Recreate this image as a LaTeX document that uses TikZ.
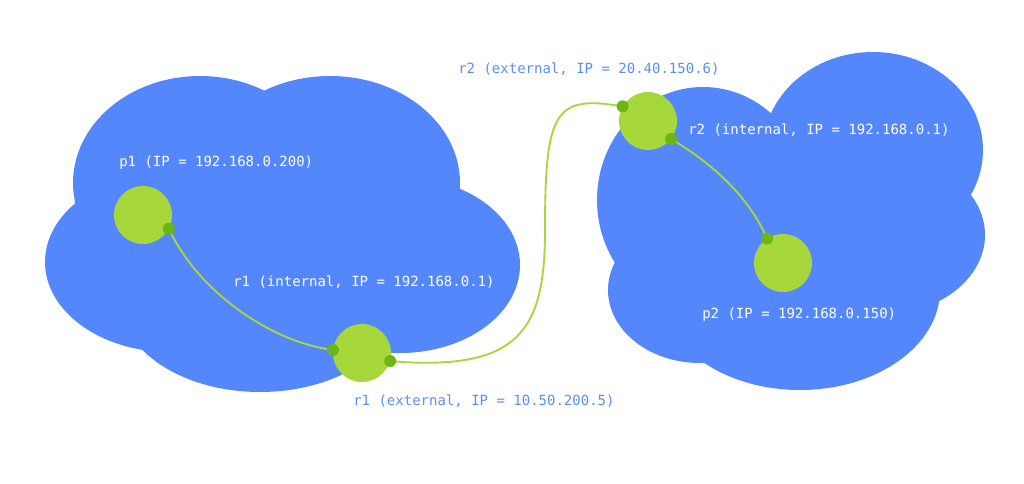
\documentclass[tikz,border=0pt]{standalone}
\usepackage{fontspec}
\setmonofont{DejaVu Sans Mono}
\definecolor{cloud}{HTML}{5587FC}
\definecolor{pt}{HTML}{A6D73B}
\definecolor{dot}{HTML}{6BB515}
\definecolor{lbl}{HTML}{5B8DF7}
\begin{document}
\begin{tikzpicture}[x=0.75pt,y=-0.75pt,
  host/.style={circle,fill=pt,inner sep=0,minimum size=43.5pt},
  port/.style={circle,fill=dot,inner sep=0,minimum size=9pt},
  link/.style={draw=pt,line width=1.4pt},
  intxt/.style={anchor=west,inner sep=0,text=white,font=\ttfamily\fontsize{10.5}{12}\selectfont},
  extxt/.style={anchor=west,inner sep=0,text=lbl,font=\ttfamily\fontsize{10.5}{12}\selectfont}]
\useasboundingbox (0,0) rectangle (1024,484);
% left cloud
\fill[cloud] (200,183) ellipse[x radius=127,y radius=107];
\fill[cloud] (330,183) ellipse[x radius=130,y radius=107];
\fill[cloud] (170,262) ellipse[x radius=125,y radius=90];
\fill[cloud] (260,300) ellipse[x radius=140,y radius=92];
\fill[cloud] (400,265) ellipse[x radius=120,y radius=88];
% right cloud
\fill[cloud] (703,200) ellipse[x radius=106,y radius=113];
\fill[cloud] (873,150) ellipse[x radius=110,y radius=98];
\fill[cloud] (880,235) ellipse[x radius=105,y radius=80];
\fill[cloud] (800,290) ellipse[x radius=140,y radius=100];
\fill[cloud] (700,290) ellipse[x radius=92,y radius=73];
% hosts
\node[host] (p1) at (143,215) {};
\node[host] (r1) at (362,353) {};
\node[host] (r2) at (648,121) {};
\node[host] (p2) at (783,263) {};
\coordinate (p1o) at (p1.-28);
\coordinate (r1a) at (r1.174);
\coordinate (r1b) at (r1.-16);
\coordinate (r2a) at (r2.150);
\coordinate (r2b) at (r2.-38);
\coordinate (p2o) at (p2.123);
% links
\draw[link] (p1o) .. controls (200,295) and (275,343) .. (r1a);
\draw[link] (r1b) .. controls (520,372) and (545,330) .. (545,230)
            .. controls (545,110) and (555,95) .. (r2a);
\draw[link] (r2b) .. controls (710,162) and (748,195) .. (p2o);
% ports
\foreach \c in {p1o,r1a,r1b,r2a,r2b,p2o} \node[port] at (\c) {};
% labels
\node[intxt] (t1) at (119,163) {p1 (IP = 192.168.0.200)};
\node[intxt] (t2) at (233,282) {r1 (internal, IP = 192.168.0.1)};
\node[extxt] (t3) at (353,401) {r1 (external, IP = 10.50.200.5)};
\node[extxt] (t4) at (458,69) {r2 (external, IP = 20.40.150.6)};
\node[intxt] (t5) at (688,130) {r2 (internal, IP = 192.168.0.1)};
\node[intxt] (t6) at (702,315) {p2 (IP = 192.168.0.150)};
\end{tikzpicture}
\end{document}
